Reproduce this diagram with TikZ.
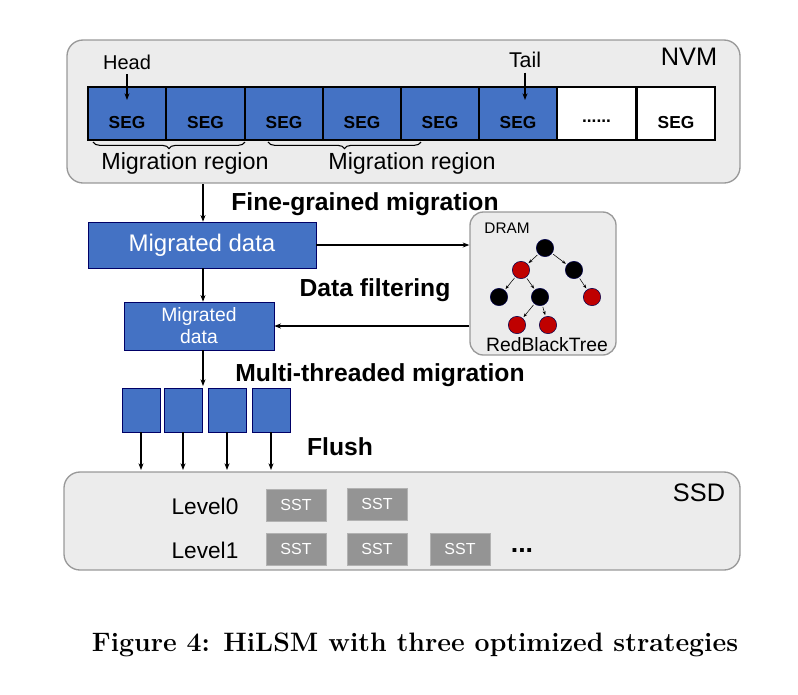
\documentclass[tikz,border=0pt]{standalone}
\usepackage{fontspec}
\setmainfont{Liberation Sans}
\newfontfamily\capfont{Latin Modern Roman}
\usetikzlibrary{decorations.pathreplacing,arrows.meta}
\newcommand{\fs}[1]{\fontsize{#1}{#1}\selectfont}
\begin{document}
\begin{tikzpicture}[x=0.75pt,y=-0.75pt,
  panel/.style={draw=gray!80,fill=gray!15,rounded corners=12pt,line width=1pt},
  seg/.style={draw=black,line width=0.8pt,minimum width=58.5pt,minimum height=39.75pt,inner sep=0pt,font=\bfseries\fs{13},text depth=0pt,anchor=center},
  blue/.style={draw=blue!40!black,fill=segblue,text=white},
  arr/.style={-{Stealth[length=5pt]},line width=0.9pt},
  lbl/.style={font=\bfseries\fs{18.5}},
  sst/.style={draw=gray!60,fill=gray!80!black!70,text=white,minimum width=45pt,minimum height=24pt,inner sep=0pt,font=\fs{12}},
  tn/.style={circle,draw=blue!30!black,minimum size=13pt,inner sep=0pt},
  te/.style={-{Stealth[length=3pt]},line width=0.4pt,shorten >=1pt,shorten <=1pt}]
\useasboundingbox (0,0) rectangle (798,694);
\definecolor{segblue}{RGB}{68,114,196}
% NVM
\node[panel,minimum width=504.75pt,minimum height=107.25pt] (nvm) at (403.5,111.5) {};
\node[font=\fs{19}] (nvmt) at (689,57) {NVM};
\foreach \i/\x in {0/127,1/205.5,2/284,3/362,4/440,5/518}{
  \node[seg,fill=segblue] (s\i) at (\x,113.5) {};
  \node[font=\bfseries\fs{13}] (st\i) at (\x,123) {SEG};}
\node[seg,fill=white] (s6) at (596.5,113.5) {};
\node[font=\bfseries\fs{13}] (st6) at (596.5,121) {......};
\node[seg,fill=white] (s7) at (676,113.5) {};
\node[font=\bfseries\fs{13}] (st7) at (676,123) {SEG};
\node[font=\fs{15}] (head) at (127,62) {Head};
\node[font=\fs{16}] (tail) at (525,60) {Tail};
\draw[arr] (head) -- (127,100);
\draw[arr] (tail) -- (525,100);
\draw[line width=0.8pt,decorate,decoration={brace,mirror,amplitude=5pt}] (93,142) -- (245,142);
\draw[line width=0.8pt,decorate,decoration={brace,mirror,amplitude=5pt}] (268,142) -- (421,142);
\node[font=\fs{17.5}] (mr1) at (185,163) {Migration region};
\node[font=\fs{17.5}] (mr2) at (412,163) {Migration region};
% migrated data
\node[blue,minimum width=171pt,minimum height=34.5pt,font=\fs{18}] (md1) at (202,245) {Migrated data};
\draw[arr] (203,184) -- (md1.north -| 203,0);
\node[lbl] (fg) at (365,204) {Fine-grained migration};
% DRAM
\node[panel,rounded corners=10pt,minimum width=109.5pt,minimum height=107.25pt] (dram) at (543,283.5) {};
\node[font=\fs{11.5}] (dt) at (507,228) {DRAM};
\node[font=\fs{14.5}] (rbt) at (547,345) {RedBlackTree};
\node[tn,fill=black] (n1) at (545,248) {};
\node[tn,fill=red!75!black] (n2) at (521,270) {};
\node[tn,fill=black] (n3) at (574,270) {};
\node[tn,fill=black] (n4) at (499,297) {};
\node[tn,fill=black] (n5) at (540,297) {};
\node[tn,fill=red!75!black] (n6) at (592,297) {};
\node[tn,fill=red!75!black] (n7) at (517,325) {};
\node[tn,fill=red!75!black] (n8) at (548,325) {};
\foreach \a/\b in {n1/n2,n1/n3,n2/n4,n2/n5,n3/n6,n5/n7,n5/n8} \draw[te] (\a) -- (\b);
\draw[arr] (md1.east) -- (dram.west |- md1.east);
\node[lbl] (df) at (375,290) {Data filtering};
\node[blue,minimum width=112.5pt,minimum height=36pt,align=center,font=\fs{14.5},inner sep=1pt] (md2) at (199,326) {Migrated\\[2pt]data};
\draw[arr] (md1.south -| 203,0) -- (md2.north -| 203,0);
\draw[arr] (dram.west |- md2.east) -- (md2.east);
\node[lbl] (mt) at (380,375) {Multi-threaded migration};
% threads
\foreach \i/\x in {1/141,2/183,3/227,4/271}{
  \node[blue,minimum width=28.5pt,minimum height=33pt,inner sep=0pt] (t\i) at (\x,410) {};
  \draw[arr] (t\i.south) -- (\x,470);}
\draw[arr] (md2.south -| 203,0) -- (203,386);
\node[lbl] (fl) at (340,447) {Flush};
% SSD
\node[panel,minimum width=507pt,minimum height=73.5pt] (ssd) at (402,521) {};
\node[font=\fs{19}] (ssdt) at (699,493) {SSD};
\node[font=\fs{17}] (l0) at (205,506) {Level0};
\node[font=\fs{17}] (l1) at (205,550) {Level1};
\node[sst] (a1) at (296,505) {SST};
\node[sst] (a2) at (377,504) {SST};
\node[sst] (b1) at (296,549) {SST};
\node[sst] (b2) at (377,549) {SST};
\node[sst] (b3) at (460,549) {SST};
\node[font=\bfseries\fs{20}] (dots) at (522,550) {...};
\node[font=\capfont\bfseries\fs{20}] (cap) at (415,645) {Figure 4: HiLSM with three optimized strategies};
\end{tikzpicture}
\end{document}
